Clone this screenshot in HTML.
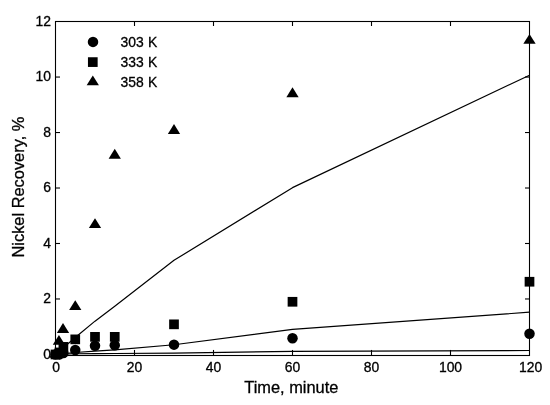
<!DOCTYPE html>
<html><head><meta charset="utf-8"><title>Nickel Recovery vs Time</title>
<style>
html,body{margin:0;padding:0;background:#fff;}
svg{display:block;}
text{font-family:"Liberation Sans",Arial,sans-serif;fill:#000;stroke:#000;stroke-width:0.3px;}
.t{font-size:13.9px;}
.a{font-size:16.4px;}
</style></head>
<body>
<svg width="550" height="405" viewBox="0 0 550 405">
<rect x="0" y="0" width="550" height="405" fill="#fff"/>
<g class="t" text-anchor="end">
<text x="51" y="358.85">0</text>
<text x="51" y="303.37">2</text>
<text x="51" y="247.89">4</text>
<text x="51" y="192.41">6</text>
<text x="51" y="136.93">8</text>
<text x="51" y="81.45">10</text>
<text x="51" y="25.97">12</text>
</g>
<g class="t" text-anchor="middle">
<text x="56.00" y="371.9">0</text>
<text x="134.50" y="371.9">20</text>
<text x="213.50" y="371.9">40</text>
<text x="292.50" y="371.9">60</text>
<text x="371.50" y="371.9">80</text>
<text x="450.50" y="371.9">100</text>
<text x="530.70" y="371.9">120</text>
</g>
<text class="a" text-anchor="middle" x="291.3" y="393.2">Time, minute</text>
<text class="a" text-anchor="middle" transform="translate(24 187.1) rotate(-90)">Nickel Recovery, %</text>
<rect x="55.5" y="21.5" width="474.0" height="334.0" fill="none" stroke="#000" stroke-width="1.1"/>
<g stroke="#000" stroke-width="1.1">
<line x1="55.5" y1="298.97" x2="60.0" y2="298.97"/><line x1="529.5" y1="298.97" x2="525.0" y2="298.97"/>
<line x1="55.5" y1="243.49" x2="60.0" y2="243.49"/><line x1="529.5" y1="243.49" x2="525.0" y2="243.49"/>
<line x1="55.5" y1="188.01" x2="60.0" y2="188.01"/><line x1="529.5" y1="188.01" x2="525.0" y2="188.01"/>
<line x1="55.5" y1="132.53" x2="60.0" y2="132.53"/><line x1="529.5" y1="132.53" x2="525.0" y2="132.53"/>
<line x1="55.5" y1="77.05" x2="60.0" y2="77.05"/><line x1="529.5" y1="77.05" x2="525.0" y2="77.05"/>
<line x1="134.50" y1="355.5" x2="134.50" y2="349.95"/><line x1="134.50" y1="21.5" x2="134.50" y2="26.0"/>
<line x1="213.50" y1="355.5" x2="213.50" y2="349.95"/><line x1="213.50" y1="21.5" x2="213.50" y2="26.0"/>
<line x1="292.50" y1="355.5" x2="292.50" y2="349.95"/><line x1="292.50" y1="21.5" x2="292.50" y2="26.0"/>
<line x1="371.50" y1="355.5" x2="371.50" y2="349.95"/><line x1="371.50" y1="21.5" x2="371.50" y2="26.0"/>
<line x1="450.50" y1="355.5" x2="450.50" y2="349.95"/><line x1="450.50" y1="21.5" x2="450.50" y2="26.0"/>
</g>
<polyline fill="none" stroke="#000" stroke-width="1.2" stroke-linejoin="round" points="55.50,354.45 75.25,337.53 95.00,321.16 114.75,306.15 174.00,260.30 292.50,187.65 529.50,75.19"/>
<polyline fill="none" stroke="#000" stroke-width="1.2" stroke-linejoin="round" points="55.50,354.45 75.25,352.51 95.00,351.12 114.75,349.79 174.00,344.74 292.50,329.40 529.50,312.17"/>
<polyline fill="none" stroke="#000" stroke-width="1.2" stroke-linejoin="round" points="55.50,354.45 75.25,353.76 95.00,353.62 114.75,353.48 174.00,353.06 292.50,351.29 529.50,350.51"/>
<g fill="#000">
<circle cx="55.50" cy="354.45" r="5.25"/>
<circle cx="59.45" cy="354.39" r="5.25"/>
<circle cx="63.40" cy="352.99" r="5.25"/>
<circle cx="75.25" cy="350.07" r="5.25"/>
<circle cx="95.00" cy="345.76" r="5.25"/>
<circle cx="114.75" cy="345.20" r="5.25"/>
<circle cx="174.00" cy="344.65" r="5.25"/>
<circle cx="292.50" cy="338.24" r="5.25"/>
<circle cx="529.50" cy="333.79" r="5.25"/>
<rect x="50.65" y="349.60" width="9.7" height="9.7"/>
<rect x="54.60" y="347.59" width="9.7" height="9.7"/>
<rect x="58.55" y="342.02" width="9.7" height="9.7"/>
<rect x="70.40" y="334.51" width="9.7" height="9.7"/>
<rect x="90.15" y="332.00" width="9.7" height="9.7"/>
<rect x="109.90" y="332.00" width="9.7" height="9.7"/>
<rect x="169.15" y="319.48" width="9.7" height="9.7"/>
<rect x="287.65" y="296.93" width="9.7" height="9.7"/>
<rect x="524.65" y="276.89" width="9.7" height="9.7"/>
<polygon points="55.50,347.92 61.65,357.72 49.35,357.72"/>
<polygon points="58.94,335.05 65.09,344.85 52.79,344.85"/>
<polygon points="63.00,323.08 69.16,332.88 56.85,332.88"/>
<polygon points="75.25,300.26 81.40,310.06 69.10,310.06"/>
<polygon points="95.00,218.15 101.15,227.95 88.85,227.95"/>
<polygon points="114.75,148.85 120.90,158.65 108.60,158.65"/>
<polygon points="174.00,124.08 180.15,133.88 167.85,133.88"/>
<polygon points="292.50,87.34 298.65,97.14 286.35,97.14"/>
<polygon points="529.50,33.90 535.65,43.70 523.35,43.70"/>
<circle cx="93.00" cy="41.90" r="5.25"/>
<rect x="87.95" y="57.25" width="9.7" height="9.7"/>
<polygon points="92.80,75.57 98.95,85.37 86.65,85.37"/>
</g>
<g class="t" style="word-spacing:0.5px"><text x="120.5" y="46.7">303 K</text><text x="120.5" y="66.7">333 K</text><text x="120.5" y="86.5">358 K</text></g>
</svg>
</body></html>
